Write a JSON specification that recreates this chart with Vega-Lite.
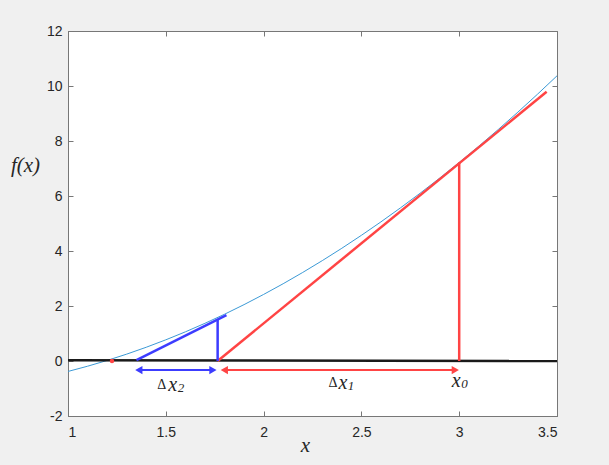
{
  "$schema": "https://vega.github.io/schema/vega-lite/v6.json",
  "width": 489,
  "height": 385,
  "autosize": {"type": "none"},
  "padding": {"left": 68, "top": 31, "right": 52, "bottom": 49},
  "background": "#f0f0f0",
  "view": {"fill": "white", "stroke": "#777777", "strokeWidth": 1},
  "config": {
    "axis": {
      "labelFont": "Liberation Sans",
      "labelFontSize": 14,
      "labelColor": "#262626",
      "domainColor": "#777777",
      "tickColor": "#777777",
      "grid": false,
      "tickSize": -5,
      "labelExpr": "datum.value < 0 ? '-' + format(-datum.value, '~g') : format(datum.value, '~g')"
    }
  },
  "datasets": {
    "curve": [
      {"x": 1.0, "y": -0.38}, {"x": 1.1, "y": -0.19}, {"x": 1.2, "y": 0.02}, {"x": 1.3, "y": 0.25},
      {"x": 1.4, "y": 0.5}, {"x": 1.5, "y": 0.77}, {"x": 1.6, "y": 1.06}, {"x": 1.7, "y": 1.37},
      {"x": 1.8, "y": 1.7}, {"x": 1.9, "y": 2.05}, {"x": 2.0, "y": 2.42}, {"x": 2.1, "y": 2.81},
      {"x": 2.2, "y": 3.22}, {"x": 2.3, "y": 3.65}, {"x": 2.4, "y": 4.1}, {"x": 2.5, "y": 4.57},
      {"x": 2.6, "y": 5.06}, {"x": 2.7, "y": 5.57}, {"x": 2.8, "y": 6.1}, {"x": 2.9, "y": 6.65},
      {"x": 3.0, "y": 7.22}, {"x": 3.1, "y": 7.81}, {"x": 3.2, "y": 8.42}, {"x": 3.3, "y": 9.05},
      {"x": 3.4, "y": 9.7}, {"x": 3.5, "y": 10.37}
    ],
    "segs": [
      {"g": "black", "x": 1.0, "y": 0.03, "x2": 3.5, "y2": 0.0},
      {"g": "red", "x": 1.765, "y": 0.0, "x2": 3.447, "y2": 9.79},
      {"g": "red", "x": 3.0, "y": 0.0, "x2": 3.0, "y2": 7.22},
      {"g": "blue", "x": 1.35, "y": 0.03, "x2": 1.81, "y2": 1.67},
      {"g": "blue", "x": 1.765, "y": 0.0, "x2": 1.765, "y2": 1.52}
    ],
    "arrows": [
      {"g": "blue", "x": 1.36, "y": -0.33, "x2": 1.745, "y2": -0.33},
      {"g": "red", "x": 1.797, "y": -0.33, "x2": 2.98, "y2": -0.33}
    ],
    "heads": [
      {"g": "blue", "dir": "left", "x": 1.362, "y": -0.33},
      {"g": "blue", "dir": "right", "x": 1.741, "y": -0.33},
      {"g": "red", "dir": "left", "x": 1.799, "y": -0.33},
      {"g": "red", "dir": "right", "x": 2.98, "y": -0.33}
    ],
    "rootpt": [{"x": 1.225, "y": 0.0}],
    "deltas": [
      {"t": "Δ", "x": 1.479, "y": -0.87},
      {"t": "Δ", "x": 2.355, "y": -0.8}
    ],
    "xs": [
      {"t": "x", "x": 1.535, "y": -0.87},
      {"t": "x", "x": 2.405, "y": -0.8},
      {"t": "x", "x": 2.985, "y": -0.72}
    ],
    "subs": [
      {"t": "2", "x": 1.578, "y": -0.98},
      {"t": "1", "x": 2.447, "y": -0.91},
      {"t": "0", "x": 3.027, "y": -0.84}
    ]
  },
  "resolve": {"axis": {"x": "independent", "y": "independent"}},
  "layer": [
    {
      "data": {"name": "curve"},
      "mark": {"type": "line", "color": "#3c9ad6", "strokeWidth": 1, "clip": true},
      "encoding": {
        "x": {"field": "x", "type": "quantitative",
              "scale": {"domain": [1, 3.5], "nice": false, "zero": false},
              "axis": {"orient": "bottom", "values": [1, 1.5, 2, 2.5, 3, 3.5], "labelPadding": 14,
                       "title": "x", "titleFont": "Liberation Serif", "titleFontStyle": "italic",
                       "titleFontWeight": "normal", "titleFontSize": 21, "titleColor": "#262626",
                       "titleX": 237, "titleY": 29, "titleBaseline": "middle", "titleAlign": "center"}},
        "y": {"field": "y", "type": "quantitative",
              "scale": {"domain": [-2, 12], "nice": false, "zero": false},
              "axis": {"orient": "left", "values": [-2, 0, 2, 4, 6, 8, 10, 12], "labelPadding": 11,
                       "title": "f(x)", "titleFont": "Liberation Serif", "titleFontStyle": "italic",
                       "titleFontWeight": "normal", "titleFontSize": 21, "titleColor": "#262626",
                       "titleAngle": 0, "titleX": -43, "titleY": 134, "titleBaseline": "middle", "titleAlign": "center"}}
      }
    },
    {
      "data": {"name": "segs"},
      "mark": {"type": "rule", "strokeWidth": 2.5},
      "encoding": {
        "x": {"field": "x", "type": "quantitative",
              "axis": {"orient": "top", "values": [1, 1.5, 2, 2.5, 3, 3.5], "labels": false, "title": null, "domain": false}},
        "y": {"field": "y", "type": "quantitative",
              "axis": {"orient": "right", "values": [-2, 0, 2, 4, 6, 8, 10, 12], "labels": false, "title": null, "domain": false}},
        "x2": {"field": "x2"},
        "y2": {"field": "y2"},
        "color": {"field": "g", "type": "nominal", "legend": null,
                  "scale": {"domain": ["black", "red", "blue"], "range": ["#1a1a1a", "#ff4444", "#3c3cff"]}}
      }
    },
    {
      "data": {"name": "arrows"},
      "mark": {"type": "rule", "strokeWidth": 2},
      "encoding": {
        "x": {"field": "x", "type": "quantitative", "axis": null},
        "y": {"field": "y", "type": "quantitative", "axis": null},
        "x2": {"field": "x2"},
        "y2": {"field": "y2"},
        "color": {"field": "g", "type": "nominal", "legend": null}
      }
    },
    {
      "data": {"name": "heads"},
      "mark": {"type": "point", "filled": true, "size": 70, "opacity": 1},
      "encoding": {
        "x": {"field": "x", "type": "quantitative", "axis": null},
        "y": {"field": "y", "type": "quantitative", "axis": null},
        "shape": {"field": "dir", "type": "nominal", "legend": null,
                  "scale": {"domain": ["left", "right"], "range": ["triangle-left", "triangle-right"]}},
        "color": {"field": "g", "type": "nominal", "legend": null}
      }
    },
    {
      "data": {"name": "rootpt"},
      "mark": {"type": "point", "filled": true, "size": 20, "color": "#ff4444", "opacity": 1},
      "encoding": {
        "x": {"field": "x", "type": "quantitative", "axis": null},
        "y": {"field": "y", "type": "quantitative", "axis": null}
      }
    },
    {
      "data": {"name": "deltas"},
      "mark": {"type": "text", "font": "Liberation Serif", "fontSize": 14, "color": "#262626", "baseline": "middle", "align": "center"},
      "encoding": {
        "x": {"field": "x", "type": "quantitative", "axis": null},
        "y": {"field": "y", "type": "quantitative", "axis": null},
        "text": {"field": "t"}
      }
    },
    {
      "data": {"name": "xs"},
      "mark": {"type": "text", "font": "Liberation Serif", "fontStyle": "italic", "fontSize": 20, "color": "#262626", "baseline": "middle", "align": "center"},
      "encoding": {
        "x": {"field": "x", "type": "quantitative", "axis": null},
        "y": {"field": "y", "type": "quantitative", "axis": null},
        "text": {"field": "t"}
      }
    },
    {
      "data": {"name": "subs"},
      "mark": {"type": "text", "font": "Liberation Serif", "fontStyle": "italic", "fontSize": 13, "color": "#262626", "baseline": "middle", "align": "center"},
      "encoding": {
        "x": {"field": "x", "type": "quantitative", "axis": null},
        "y": {"field": "y", "type": "quantitative", "axis": null},
        "text": {"field": "t"}
      }
    }
  ]
}
